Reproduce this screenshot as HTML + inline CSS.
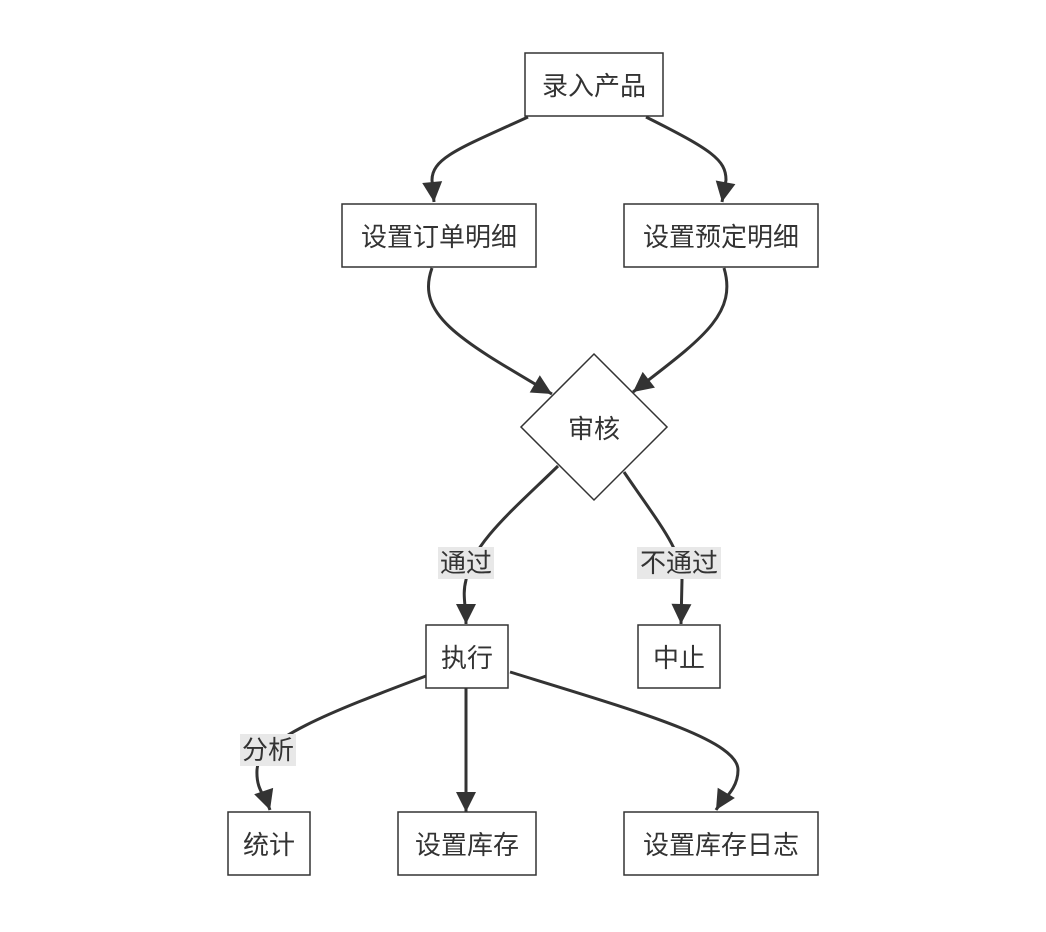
<!DOCTYPE html>
<html><head><meta charset="utf-8"><style>
html,body{margin:0;padding:0;background:#fff;}
svg{display:block;}
text{font-family:"Liberation Sans","Noto Sans CJK SC",sans-serif;font-size:26px;fill:#333;}
</style></head><body>
<svg width="1046" height="932" viewBox="0 0 1046 932" xmlns="http://www.w3.org/2000/svg">
<defs>
<marker id="a" viewBox="0 0 10 10" refX="9" refY="5" markerWidth="8" markerHeight="8" markerUnits="userSpaceOnUse" orient="auto" style="overflow:visible">
<path d="M0,0 L10,5 L0,10 z" fill="#333" transform="scale(2.2) translate(-5,-5) translate(5,5)"/>
</marker>
<marker id="b" viewBox="-2 -12 24 24" refX="20" refY="0" markerWidth="24" markerHeight="24" markerUnits="userSpaceOnUse" orient="auto">
<path d="M0,-10 L20,0 L0,10 z" fill="#333"/>
</marker>
</defs>
<g fill="none" stroke="#333" stroke-width="3">
<path d="M528,117 C460,148 432,158 432,180 L434,202" marker-end="url(#b)"/>
<path d="M646,117 C712,150 726,160 726,180 L722,202" marker-end="url(#b)"/>
<path d="M432,268 C415,315 460,340 552,394" marker-end="url(#b)"/>
<path d="M724,268 C738,315 700,340 633,392" marker-end="url(#b)"/>
<path d="M558,466 C515,508 470,545 466,580 C462,595 466,605 466,624" marker-end="url(#b)"/>
<path d="M624,472 C660,525 682,550 682,580 L681,624" marker-end="url(#b)"/>
<path d="M426,676 C330,712 258,740 257,770 C256,790 265,795 270,810" marker-end="url(#b)"/>
<path d="M466,688 L466,812" marker-end="url(#b)"/>
<path d="M510,672 C640,712 738,740 738,770 C738,790 722,800 716,810" marker-end="url(#b)"/>
</g>
<g fill="#fff" stroke="#333" stroke-width="1.5">
<rect x="525" y="53" width="138" height="63"/>
<rect x="342" y="204" width="194" height="63"/>
<rect x="624" y="204" width="194" height="63"/>
<polygon points="594,354 667,427 594,500 521,427"/>
<rect x="426" y="625" width="82" height="63"/>
<rect x="638" y="625" width="82" height="63"/>
<rect x="228" y="812" width="82" height="63"/>
<rect x="398" y="812" width="138" height="63"/>
<rect x="624" y="812" width="194" height="63"/>
</g>
<g fill="#e8e8e8" stroke="none">
<rect x="438" y="547" width="56" height="32"/>
<rect x="637" y="547" width="84" height="32"/>
<rect x="240" y="734" width="56" height="32"/>
</g>
<g text-anchor="middle" dominant-baseline="central">
<text x="594" y="86">录入产品</text>
<text x="439" y="237">设置订单明细</text>
<text x="721" y="237">设置预定明细</text>
<text x="594" y="429">审核</text>
<text x="466" y="563">通过</text>
<text x="679" y="563">不通过</text>
<text x="467" y="658">执行</text>
<text x="679" y="658">中止</text>
<text x="268" y="750">分析</text>
<text x="269" y="845">统计</text>
<text x="467" y="845">设置库存</text>
<text x="721" y="845">设置库存日志</text>
</g>
</svg>
</body></html>
